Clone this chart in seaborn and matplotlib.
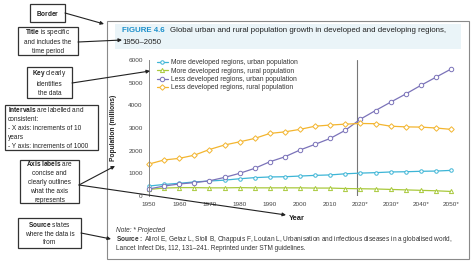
import matplotlib
matplotlib.use('Agg')
import matplotlib.pyplot as plt
import seaborn as sns
from matplotlib.patches import Rectangle, FancyArrowPatch

# --- data (millions) ---
years = list(range(1950, 2051, 5))
more_urban = [440, 510, 560, 620, 660, 700, 760, 810, 840, 850, 880,
              910, 930, 980, 1010, 1030, 1060, 1070, 1090, 1100, 1130]
more_rural = [290, 350, 370, 370, 360, 360, 370, 360, 360, 360, 360,
              350, 350, 330, 320, 310, 290, 270, 250, 230, 200]
less_urban = [310, 440, 530, 590, 670, 820, 1000, 1220, 1510, 1730, 2030,
              2280, 2540, 2900, 3390, 3770, 4140, 4500, 4880, 5240, 5600]
less_rural = [1410, 1590, 1660, 1800, 2050, 2250, 2390, 2540, 2760, 2830, 2940,
              3080, 3130, 3170, 3200, 3190, 3080, 3050, 3040, 3000, 2940]

series_names = ['More developed regions, urban population',
                'More developed regions, rural population',
                'Less developed regions, urban population',
                'Less developed regions, rural population']
x_ticks = [1950, 1960, 1970, 1980, 1990, 2000, 2010, 2020, 2030, 2040, 2050]
x_tick_labels = ['1950', '1960', '1970', '1980', '1990', '2000', '2010',
                 '2020*', '2030*', '2040*', '2050*']
projection_year = 2019

# --- setup ---
sns.set_style('white')
plt.rcParams['font.family'] = ['Liberation Sans', 'DejaVu Sans']
plt.rcParams['mathtext.fontset'] = 'custom'
plt.rcParams['mathtext.rm'] = 'Liberation Sans'
plt.rcParams['mathtext.bf'] = 'Liberation Sans:bold'
plt.rcParams['mathtext.it'] = 'Liberation Sans:italic'

W, H = 474, 264
fig = plt.figure(figsize=(W / 100, H / 100), dpi=100)


def fx(x):
    return x / W


def fy(y):
    return 1 - y / H


# chart border and title band
fig.add_artist(Rectangle((fx(107), fy(259)), (469 - 107) / W, (259 - 21) / H,
                         transform=fig.transFigure, fill=False, ec='#8a8a8a', lw=0.8))
fig.add_artist(Rectangle((fx(115), fy(49)), (461 - 115) / W, (49 - 24) / H,
                         transform=fig.transFigure, fc='#eaf4f8', ec='none'))
fig.text(fx(122), fy(31), 'FIGURE 4.6', color='#1b8fcb', fontsize=5.7,
         fontweight='bold', va='center')
fig.text(fx(170), fy(31), 'Global urban and rural population growth in developed and developing regions,',
         color='#222222', fontsize=5.7, va='center')
fig.text(fx(122), fy(42), '1950\u20132050', color='#222222', fontsize=5.7, va='center')

# --- main chart ---
ax = fig.add_axes([fx(149), fy(196), (451 - 149) / W, (196 - 60) / H])
colors = ['#3db5d6', '#a9c93c', '#7b73b9', '#f3b52f']
markers = ['o', '^', 'o', 'D']
msizes = [2.5, 3.0, 3.2, 2.8]
for vals, name, c, m, ms in zip([more_urban, more_rural, less_urban, less_rural],
                                series_names, colors, markers, msizes):
    sns.lineplot(x=years, y=vals, ax=ax, color=c, marker=m, markersize=ms,
                 mfc='white', mec=c, mew=0.7, lw=0.9, label=name, clip_on=False)

ax.axvline(projection_year, color='#777777', lw=0.8, zorder=0)
ax.set_xlim(1950, 2050)
ax.set_ylim(0, 6000)
ax.set_yticks(range(0, 6001, 1000))
ax.set_xticks(x_ticks)
ax.set_xticklabels(x_tick_labels)
ax.tick_params(axis='both', labelsize=4.6, colors='#444444', length=2.5, width=0.6, pad=2)
ax.tick_params(axis='x', length=0, pad=4)
for s in ['top', 'right', 'bottom']:
    ax.spines[s].set_visible(False)
ax.spines['left'].set_color('#888888')
ax.spines['left'].set_linewidth(0.7)

ax.set_ylabel('Population (millions)', fontsize=4.8, fontweight='bold', color='#222222')
ax.yaxis.set_label_coords(-0.106, 0.5)
ax.set_xlabel('Year', fontsize=5.4, fontweight='bold', color='#222222')
ax.xaxis.set_label_coords(0.49, -0.14)

ax.legend(loc='upper left', bbox_to_anchor=(0.015, 1.03), frameon=False, fontsize=4.9,
          handlelength=1.6, handletextpad=0.4, labelspacing=0.2, borderpad=0,
          labelcolor='#333333')

# notes
fig.text(fx(116), fy(230), 'Note: * Projected', fontsize=4.7, style='italic',
         color='#333333', va='center')
fig.text(fx(116), fy(239.5), r'$\bf{Source:}$ Alirol E, Getaz L, Stoll B, Chappuis F, Loutan L, '
         'Urbanisation and infectious diseases in a globalised world,',
         fontsize=4.7, color='#333333', va='center')
fig.text(fx(116), fy(248.5), 'Lancet Infect Dis, 112, 131\u2013241. Reprinted under STM guidelines.',
         fontsize=4.7, color='#333333', va='center')

# --- annotation boxes on the left ---
boxes = [
    ((30, 4, 65, 22), r'$\bf{Border}$', 'center'),
    ((18, 27, 78, 55), '$\\bf{Title}$ is specific\nand includes the\ntime period', 'center'),
    ((27, 67, 72, 98), '$\\bf{Key}$ clearly\nidentifies\nthe data', 'center'),
    ((5, 105, 98, 150), '$\\bf{Intervals}$ are labelled and\nconsistent:\n- X axis: increments of 10\n'
                        'years\n- Y axis: increments of 1000', 'left'),
    ((20, 160, 79, 203), '$\\bf{Axis\\ labels}$ are\nconcise and\nclearly outlines\nwhat the axis\nrepresents',
     'center'),
    ((18, 218, 81, 248), '$\\bf{Source}$ states\nwhere the data is\nfrom', 'center'),
]
for (x0, y0, x1, y1), txt, ha in boxes:
    fig.add_artist(Rectangle((fx(x0), fy(y1)), (x1 - x0) / W, (y1 - y0) / H,
                             transform=fig.transFigure, fill=False, ec='#333333', lw=0.9))
    tx = (x0 + x1) / 2 if ha == 'center' else x0 + 3
    fig.text(fx(tx), fy((y0 + y1) / 2), txt, ha=ha, va='center', fontsize=4.7,
             color='#222222', linespacing=1.35, multialignment=ha)

arrows = [
    ((65, 13), (104, 24)),
    ((78, 42), (122, 40)),
    ((72, 83), (150, 71)),
    ((79, 185), (115, 166)),
    ((79, 185), (286, 215)),
    ((81, 233), (111, 239)),
]
for (x0, y0), (x1, y1) in arrows:
    fig.add_artist(FancyArrowPatch(
        (fx(x0), fy(y0)), (fx(x1), fy(y1)), transform=fig.transFigure,
        arrowstyle='-|>', mutation_scale=5, color='#222222', lw=0.8,
        shrinkA=0, shrinkB=0))

fig.savefig('out.png', dpi=100)
